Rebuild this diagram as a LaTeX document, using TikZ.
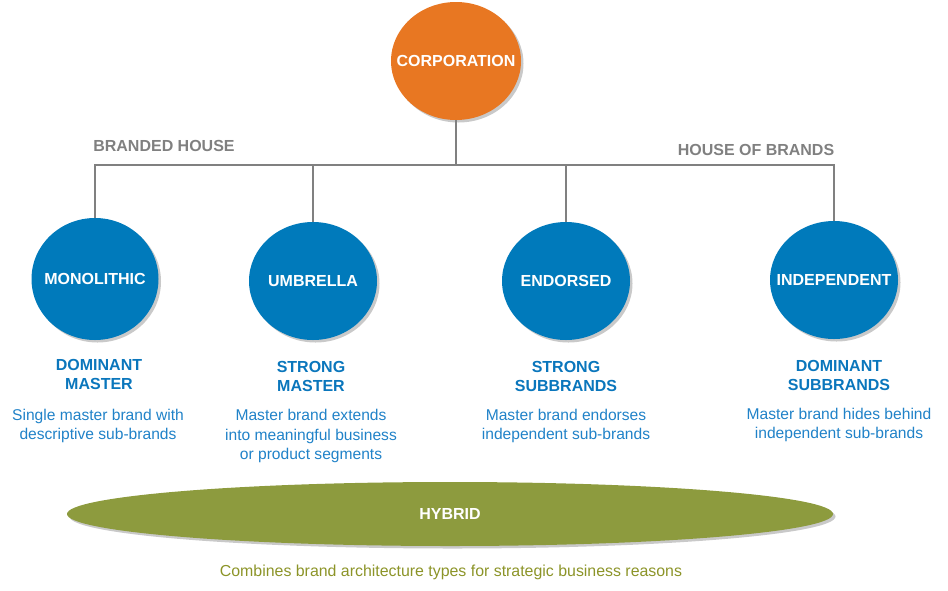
\documentclass[tikz,border=0pt]{standalone}
\usepackage{fontspec}
\setmainfont{Liberation Sans}
\usepackage{tikz}
\usetikzlibrary{positioning}
\usetikzlibrary{shapes.geometric}
\usetikzlibrary{shadows}

\definecolor{corporange}{RGB}{232,119,34}
\definecolor{brandblue}{RGB}{0,122,187}
\definecolor{headblue}{RGB}{10,118,188}
\definecolor{textblue}{RGB}{32,130,200}
\definecolor{linegray}{RGB}{128,128,128}
\definecolor{hybridgreen}{RGB}{141,155,62}
\definecolor{captiongreen}{RGB}{140,148,40}

\tikzset{
	bubble/.style={ellipse, inner sep=0pt,
		drop shadow={shadow xshift=2.5pt, shadow yshift=-2.5pt, opacity=0.3, fill=black!70}},
	bubbletext/.style={text=white, font=\fontsize{16}{18}\selectfont\bfseries},
	branchlabel/.style={text=linegray, font=\fontsize{16}{18}\selectfont\bfseries},
	headlabel/.style={text=headblue, align=center, font=\fontsize{16}{19}\selectfont\bfseries},
	desclabel/.style={text=textblue, align=center, font=\fontsize{15.6}{19.8}\selectfont},
	connector/.style={draw=linegray, line width=1.6pt}
}

\begin{document}
\begin{tikzpicture}[x=1pt, y=-1pt]
	\useasboundingbox (0,0) rectangle (948,590);

	% top of the tree
	\node[bubble, fill=corporange, minimum width=130pt, minimum height=118pt,
		label={[bubbletext]center:CORPORATION}] (corp) at (456,61) {};
	\coordinate (bar) at (456,165);

	\node[branchlabel] (branded) at (164,146) {BRANDED HOUSE};
	\node[branchlabel] (houseof) at (756,150) {HOUSE OF BRANDS};

	% the four architecture types
	\node[bubble, fill=brandblue, minimum width=127pt, minimum height=122pt,
		label={[bubbletext]center:MONOLITHIC}] (mono) at (95,279) {};
	\node[bubble, fill=brandblue, minimum width=128pt, minimum height=118pt,
		label={[bubbletext]center:UMBRELLA}] (umb) at (313,281) {};
	\node[bubble, fill=brandblue, minimum width=128pt, minimum height=118pt,
		label={[bubbletext]center:ENDORSED}] (endo) at (566,281) {};
	\node[bubble, fill=brandblue, minimum width=128pt, minimum height=118pt,
		label={[bubbletext]center:INDEPENDENT}] (indep) at (834,280) {};

	\draw[connector] (corp.south) -- (corp.south |- bar);
	\draw[connector] (mono.north) -- (mono.north |- bar) -- (indep.north |- bar) -- (indep.north);
	\draw[connector] (umb.north) -- (umb.north |- bar);
	\draw[connector] (endo.north) -- (endo.north |- bar);

	\node[headlabel] (monohead) at (99,374) {DOMINANT\\MASTER};
	\node[headlabel] (umbhead) at (311,376) {STRONG\\MASTER};
	\node[headlabel] (endohead) at (566,376) {STRONG\\SUBBRANDS};
	\node[headlabel] (indephead) at (839,375) {DOMINANT\\SUBBRANDS};

	\node[desclabel] (monodesc) at (98,426) {Single master brand with\\descriptive sub-brands};
	\node[desclabel] (umbdesc) at (311,436) {Master brand extends\\into meaningful business\\or product segments};
	\node[desclabel] (endodesc) at (566,426) {Master brand endorses\\independent sub-brands};
	\node[desclabel] (indepdesc) at (839,425) {Master brand hides behind\\independent sub-brands};

	% hybrid band
	\node[bubble, fill=hybridgreen, minimum width=766pt, minimum height=64pt,
		label={[bubbletext]center:HYBRID}] (hybrid) at (450,514) {};
	\node[text=captiongreen, font=\fontsize{15.9}{18}\selectfont] (caption) at (451,572) {Combines brand architecture types for strategic business reasons};
\end{tikzpicture}
\end{document}
